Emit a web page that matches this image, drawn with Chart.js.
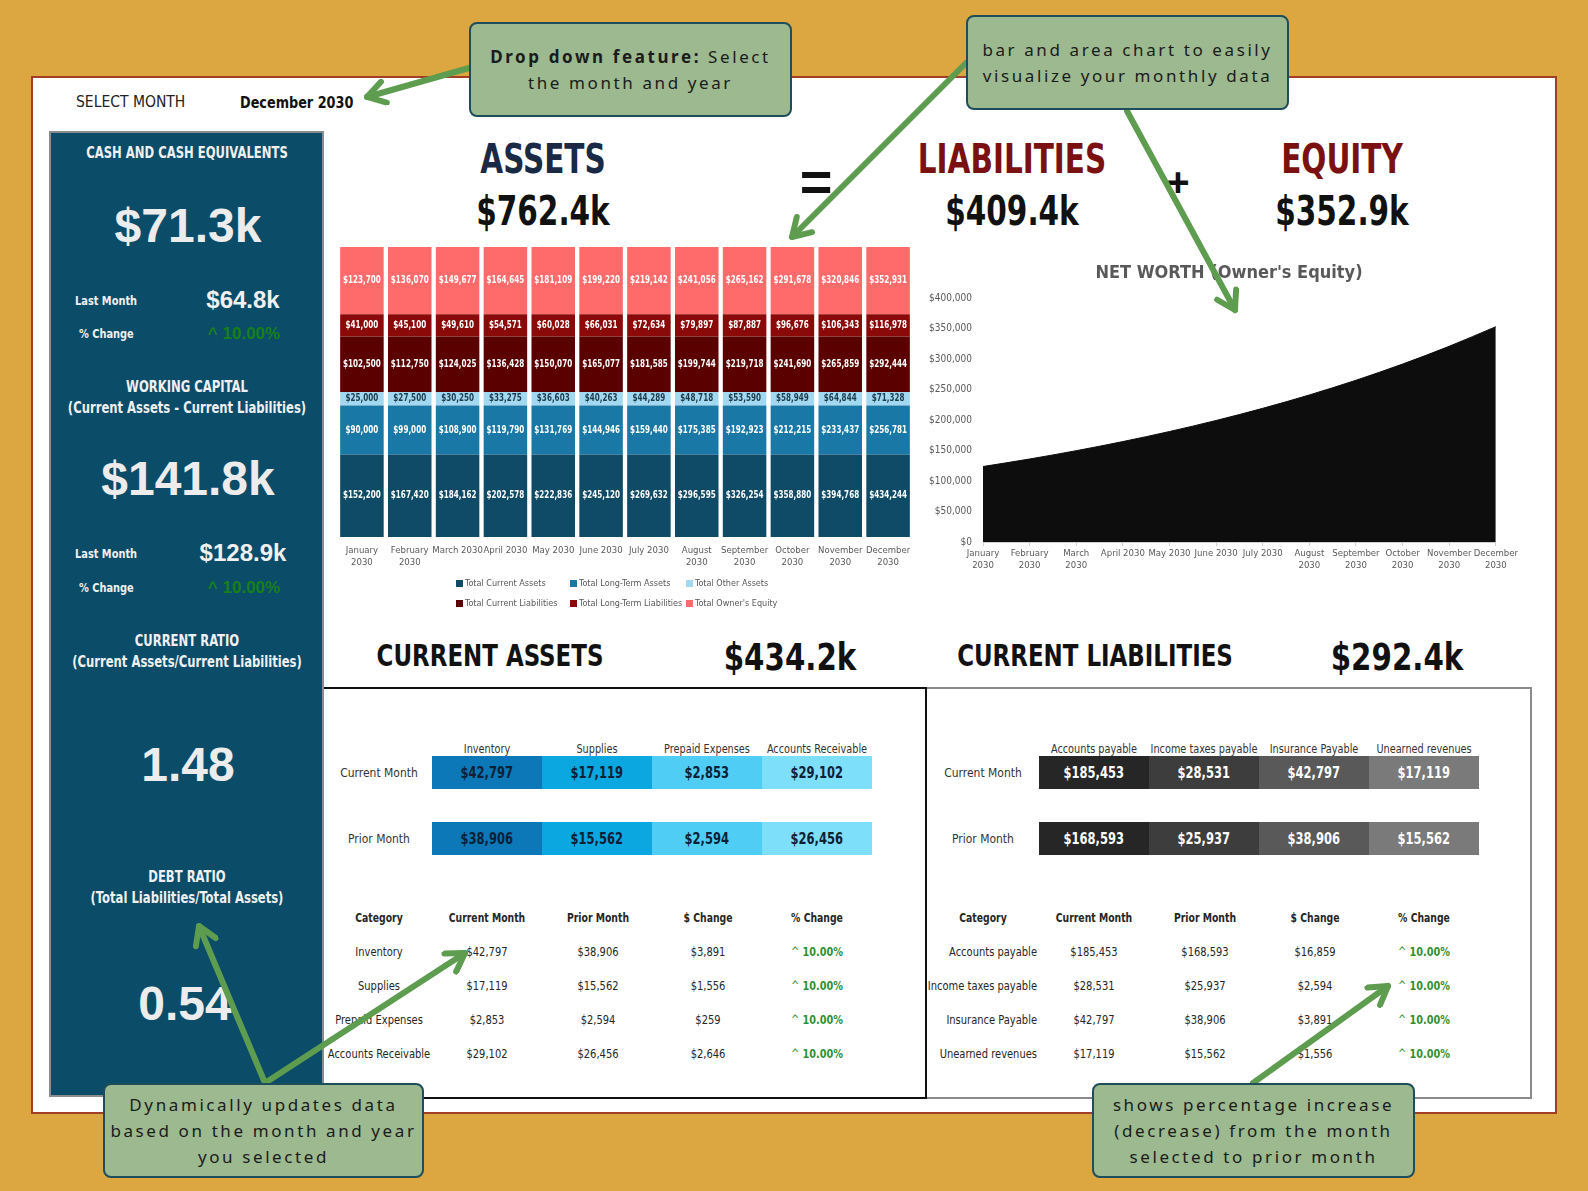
<!DOCTYPE html>
<html>
<head>
<title>Balance Sheet Dashboard</title>
<script src="https://cdn.jsdelivr.net/npm/chart.js"></script>
<style>
  body { margin:0; width:1588px; height:1191px; background:#dca741; position:relative; overflow:hidden;
         font-family:"Liberation Sans Narrow","DejaVu Sans Condensed",sans-serif; color:#222; }
  .t  { position:absolute; white-space:nowrap; line-height:1; transform:translate(-50%,-50%) scaleX(var(--sx,1)); }
  .tl { transform:translate(0,-50%) scaleX(var(--sx,1)); transform-origin:0 50%; }
  .tr { transform:translate(-100%,-50%) scaleX(var(--sx,1)); transform-origin:100% 50%; }
  .b  { font-weight:bold; }
  #sheet { position:absolute; left:31px; top:76px; width:1522px; height:1034px; background:#fff; border:2px solid #a23d26; }
  #side  { position:absolute; left:49px; top:131px; width:271px; height:962px; background:#0b4c69; border:2px solid #8c8c8c; }
  .side  { color:#f0f0f0; }
  .big   { font-family:"Liberation Sans",Arial,sans-serif; font-weight:bold; font-size:48px; color:#ececec; }
  .green { color:#17801a; font-family:"Liberation Sans",Arial,sans-serif; font-weight:bold; font-size:17px; }
  .head  { font-weight:bold; font-size:40px; --sx:0.82; }
  .cell  { position:absolute; height:33px; line-height:33px; text-align:center; font-weight:bold; font-size:16px; }
  .cell span { display:inline-block; transform:scaleX(0.8); }
  .call  { position:absolute; background:#9cb98f; border:2px solid #1e4d5b; border-radius:8px; box-sizing:border-box;
           font-family:"Noto Sans",sans-serif; font-size:17px; letter-spacing:2.6px; line-height:26px; color:#1b1b1b;
           display:flex; align-items:center; justify-content:center; text-align:center; z-index:5; }
  #legend div { position:absolute; font-size:9px; color:#595959; white-space:nowrap; line-height:1; }
  #legend span { display:inline-block; width:7px; height:7px; margin-right:2px; vertical-align:-0.5px; }
</style>
</head>
<body>
<div id="sheet"></div>
<div id="side"></div>

<div class="t tl" style="left:76px;top:103px;font-size:15.5px">SELECT MONTH</div>
<div class="t tl b" style="left:240px;top:103px;font-size:15px;--sx:0.95;color:#111">December 2030</div>

<div id="kpis"></div>
<div id="heads"></div>

<div style="position:absolute;left:330px;top:240px;width:595px;height:340px"><canvas id="barChart" width="595" height="340"></canvas></div>
<div id="legend"></div>
<div style="position:absolute;left:915px;top:255px;width:605px;height:330px"><canvas id="areaChart" width="605" height="330"></canvas></div>
<div class="t b" style="left:1229px;top:272px;font-size:18px;color:#595959">NET WORTH (Owner's Equity)</div>

<div style="position:absolute;left:324px;top:687px;width:601px;height:408px;border:2px solid #111;border-left:none;"></div>
<div style="position:absolute;left:927px;top:687px;width:603px;height:408px;border:2px solid #8a8a8a;border-left:none;"></div>

<div id="tables"></div>

<svg style="position:absolute;left:0;top:0;z-index:4" width="1588" height="1191">
  <defs>
    <marker id="ah" viewBox="0 0 10 10" refX="8" refY="5" markerWidth="4.5" markerHeight="4.5" orient="auto">
      <path d="M1.5,1 L8,5 L1.5,9" fill="none" stroke="#5e9c4f" stroke-width="2.2" stroke-linecap="round" stroke-linejoin="round"/>
    </marker>
  </defs>
  <g stroke="#5e9c4f" stroke-width="6" stroke-linecap="round" marker-end="url(#ah)">
    <line x1="469" y1="68" x2="367" y2="97"/>
    <line x1="966" y1="63" x2="792" y2="237"/>
    <line x1="1127" y1="111" x2="1235" y2="310"/>
    <line x1="265" y1="1083" x2="199" y2="926"/>
    <line x1="265" y1="1083" x2="465" y2="953"/>
    <line x1="1253" y1="1083" x2="1388" y2="986"/>
  </g>
</svg>

<div class="call" style="left:469px;top:22px;width:323px;height:95px"><div><b>Drop down feature:</b> Select<br>the month and year</div></div>
<div class="call" style="left:966px;top:15px;width:323px;height:95px"><div>bar and area chart to easily<br>visualize your monthly data</div></div>
<div class="call" style="left:103px;top:1083px;width:321px;height:95px"><div>Dynamically updates data<br>based on the month and year<br>you selected</div></div>
<div class="call" style="left:1092px;top:1083px;width:323px;height:95px"><div>shows percentage increase<br>(decrease) from the month<br>selected to prior month</div></div>

<script>
// ---- monthly series (bottom to top of the stack) ----
const barMonthLabels = [['January','2030'],['February','2030'],'March 2030','April 2030','May 2030','June 2030','July 2030',
  ['August','2030'],['September','2030'],['October','2030'],['November','2030'],['December','2030']];
const areaMonthLabels = [['January','2030'],['February','2030'],['March','2030'],'April 2030','May 2030','June 2030','July 2030',
  ['August','2030'],['September','2030'],['October','2030'],['November','2030'],['December','2030']];

const curAssets    = [152200,167420,184162,202578,222836,245120,269632,296595,326254,358880,394768,434244];
const ltAssets     = [90000,99000,108900,119790,131769,144946,159440,175385,192923,212215,233437,256781];
const otherAssets  = [25000,27500,30250,33275,36603,40263,44289,48718,53590,58949,64844,71328];
const curLiab      = [102500,112750,124025,136428,150070,165077,181585,199744,219718,241690,265859,292444];
const ltLiab       = [41000,45100,49610,54571,60028,66031,72634,79897,87887,96676,106343,116978];
const ownersEquity = [123700,136070,149677,164645,181109,199220,219142,241056,265162,291678,320846,352931];

const seriesNames  = ['Total Current Assets','Total  Long-Term Assets','Total  Other  Assets',
  'Total Current Liabilities','Total Long-Term Liabilities',"Total Owner's Equity"];
const seriesColors = ['#0f4b67','#1a78a6','#a3d9f0','#5b0000','#8a0a0a','#ff6b6b'];

// ---- KPI cards ----
const kpiTitles = [['CASH AND CASH EQUIVALENTS'],['WORKING CAPITAL','(Current Assets - Current Liabilities)'],
  ['CURRENT RATIO','(Current Assets/Current Liabilities)'],['DEBT RATIO','(Total Liabilities/Total Assets)']];
const kpiValues = ['$71.3k','$141.8k','1.48','0.54'];
const kpiLast   = ['$64.8k','$128.9k'];
const kpiPct    = ['^ 10.00%','^ 10.00%'];

const headNames  = ['ASSETS','LIABILITIES','EQUITY'];
const headValues = ['$762.4k','$409.4k','$352.9k'];

// ---- current assets / liabilities detail ----
const caCats   = ['Inventory','Supplies','Prepaid Expenses','Accounts Receivable'];
const caCurr   = [42797,17119,2853,29102];
const caPrior  = [38906,15562,2594,26456];
const caChange = [3891,1556,259,2646];
const caPct    = [10,10,10,10];
const clCats   = ['Accounts payable','Income taxes payable','Insurance Payable','Unearned revenues'];
const clCurr   = [185453,28531,42797,17119];
const clPrior  = [168593,25937,38906,15562];
const clChange = [16859,2594,3891,1556];
const clPct    = [10,10,10,10];

const fmt = v => '$' + v.toLocaleString('en-US');

function put(parent, x, y, html, cls, style) {
  const d = document.createElement('div');
  d.className = 't ' + (cls || '');
  d.style.left = x + 'px'; d.style.top = y + 'px';
  if (style) d.style.cssText += style;
  d.innerHTML = html;
  document.getElementById(parent).appendChild(d);
  return d;
}

// side panel
const titleY = [[153],[387,408],[641,662],[877,898]];
const valueY = [226,479,765,1004];
kpiTitles.forEach((lines, i) => {
  lines.forEach((s, j) => put('kpis', 187, titleY[i][j], s, 'side b', 'font-size:15px;--sx:0.86'));
  put('kpis', i === 3 ? 185 : 188, valueY[i], kpiValues[i], 'big');
});
[[300,333],[553,587]].forEach((ys, i) => {
  put('kpis', 75, ys[0], 'Last Month', 'tl side b', 'font-size:13px;--sx:0.84');
  put('kpis', 79, ys[1], '% Change', 'tl side b', 'font-size:13px;--sx:0.84');
  put('kpis', 243, ys[0], kpiLast[i], 'side', 'font-family:"Liberation Sans",Arial,sans-serif;font-weight:bold;font-size:24px');
  put('kpis', 244, ys[1], kpiPct[i], 'green');
});

// equation headings
const headX = [543,1012,1342];
const headColors = ['#1a2a45','#7a1010','#7a1010'];
headNames.forEach((s, i) => {
  put('heads', headX[i], 159, s, 'head', 'color:' + headColors[i]);
  put('heads', headX[i], 211, headValues[i], 'head', 'color:#111');
});
put('heads', 816, 182, '=', 'b', 'font-family:"Liberation Sans",Arial;font-size:56px;color:#111');
put('heads', 1178, 182, '+', 'b', 'font-family:"Liberation Sans",Arial;font-size:40px;color:#111');
put('heads', 490, 656, 'CURRENT ASSETS', 'b', 'font-size:30px;--sx:0.85;color:#111');
put('heads', 790, 657, '$434.2k', 'b', 'font-size:37px;--sx:0.88;color:#111');
put('heads', 1095, 656, 'CURRENT LIABILITIES', 'b', 'font-size:30px;--sx:0.85;color:#111');
put('heads', 1397, 657, '$292.4k', 'b', 'font-size:37px;--sx:0.88;color:#111');

// detail strips and tables
function strip(x0, labelX, cats, curr, prior, colors, textColor) {
  const w = 110;
  cats.forEach((c, i) => {
    const cx = x0 + w * i + w / 2;
    put('tables', cx, 749, c, '', 'font-size:12px;--sx:0.9;color:#333');
    [[curr, 756], [prior, 822]].forEach(([vals, top]) => {
      const d = document.createElement('div');
      d.className = 'cell';
      d.style.cssText += `left:${x0 + w * i}px;top:${top}px;width:${w}px;background:${colors[i]};color:${textColor}`;
      d.innerHTML = '<span>' + fmt(vals[i]) + '</span>';
      document.getElementById('tables').appendChild(d);
    });
  });
  put('tables', labelX, 772, 'Current Month', '', 'font-size:13px;--sx:0.92;color:#333');
  put('tables', labelX, 838, 'Prior Month', '', 'font-size:13px;--sx:0.92;color:#333');
}
strip(432, 379, caCats, caCurr, caPrior, ['#0c78b8','#0aa7e0','#50cdf5','#7ddff9'], '#0d2035');
strip(1039, 983, clCats, clCurr, clPrior, ['#262626','#3d3d3d','#595959','#7a7a7a'], '#fff');

function table(xs, catRight, cats, curr, prior, change, pct) {
  const heads = ['Category','Current Month','Prior Month','$ Change','% Change'];
  const txt = 'font-size:12px;--sx:0.92;color:#262626';
  heads.forEach((h, i) => put('tables', xs[i], 918, h, 'b', 'font-size:12px;--sx:0.86;color:#262626'));
  const rowsY = [952,986,1020,1054];
  cats.forEach((c, r) => {
    if (catRight) put('tables', catRight, rowsY[r], c, 'tr', txt);
    else put('tables', xs[0], rowsY[r], c, '', txt);
    put('tables', xs[1], rowsY[r], fmt(curr[r]), '', txt);
    put('tables', xs[2], rowsY[r], fmt(prior[r]), '', txt);
    put('tables', xs[3], rowsY[r], fmt(change[r]), '', txt);
    put('tables', xs[4], rowsY[r], '<span style="font-weight:normal">^</span> ' + pct[r].toFixed(2) + '%', 'b',
        'font-size:12px;--sx:0.9;color:#2f8f2f');
  });
}
table([379,487,598,708,817], 0, caCats, caCurr, caPrior, caChange, caPct);
table([983,1094,1205,1315,1424], 1037, clCats, clCurr, clPrior, clChange, clPct);

// ---- charts ----
Chart.defaults.font.family = '"Liberation Sans Narrow","DejaVu Sans Condensed",sans-serif';
Chart.defaults.color = '#595959';

const rawSeries = [curAssets, ltAssets, otherAssets, curLiab, ltLiab, ownersEquity];
const monthTotals = curAssets.map((_, j) => rawSeries.reduce((s, a) => s + a[j], 0));

const segLabels = {
  id: 'segLabels',
  afterDatasetsDraw(chart) {
    const ctx = chart.ctx;
    chart.data.datasets.forEach((ds, i) => {
      chart.getDatasetMeta(i).data.forEach((bar, j) => {
        ctx.save();
        ctx.font = 'bold 10px "Liberation Sans Narrow","DejaVu Sans Condensed",sans-serif';
        ctx.textAlign = 'center';
        ctx.textBaseline = 'middle';
        ctx.fillStyle = i === 2 ? '#1b3a4b' : '#ffffff';
        ctx.translate(bar.x, (bar.y + bar.base) / 2);
        ctx.scale(0.8, 1);
        ctx.fillText(fmt(ds.raw[j]), 0, 0);
        ctx.restore();
      });
    });
  }
};

const barChart = new Chart(document.getElementById('barChart'), {
  type: 'bar',
  data: {
    labels: barMonthLabels,
    datasets: rawSeries.map((arr, i) => ({
      label: seriesNames[i],
      raw: arr,
      data: arr.map((v, j) => v / monthTotals[j] * 100),
      backgroundColor: seriesColors[i],
      borderWidth: 0,
      barPercentage: 0.91,
      categoryPercentage: 1
    }))
  },
  options: {
    responsive: false,
    animation: false,
    layout: { padding: { left: 8, right: 13, top: 7, bottom: 0 } },
    plugins: { legend: { display: false }, tooltip: { enabled: false } },
    scales: {
      x: { stacked: true, grid: { display: false }, border: { display: false },
           ticks: { font: { size: 9.5 }, maxRotation: 0, autoSkip: false, padding: 0 },
           afterFit: s => { s.height = 43; } },
      y: { stacked: true, display: false, min: 0, max: 100 }
    }
  },
  plugins: [segLabels]
});

// legend laid out in the 3-column grid of the reference
const legendPos = [[456,584],[570,584],[686,584],[456,604],[570,604],[686,604]];
barChart.data.datasets.forEach((ds, i) => {
  const d = document.createElement('div');
  d.style.left = legendPos[i][0] + 'px';
  d.style.top = (legendPos[i][1] - 5) + 'px';
  d.innerHTML = `<span style="background:${ds.backgroundColor}"></span>${ds.label}`;
  document.getElementById('legend').appendChild(d);
});

new Chart(document.getElementById('areaChart'), {
  type: 'line',
  data: {
    labels: areaMonthLabels,
    datasets: [{
      label: "Owner's Equity",
      data: ownersEquity,
      fill: 'origin',
      backgroundColor: '#0d0d0d',
      borderColor: '#0d0d0d',
      borderWidth: 1,
      pointRadius: 0,
      tension: 0.4,
      cubicInterpolationMode: 'monotone'
    }]
  },
  options: {
    responsive: false,
    animation: false,
    layout: { padding: { left: 0, right: 23, top: 43, bottom: 0 } },
    plugins: { legend: { display: false }, tooltip: { enabled: false } },
    scales: {
      x: { grid: { drawOnChartArea: false, color: '#d0d0d0', tickLength: 4 }, border: { color: '#d0d0d0' },
           ticks: { font: { size: 9.5 }, maxRotation: 0, autoSkip: false, padding: 2 },
           afterFit: s => { s.height = 43; } },
      y: { min: 0, max: 400000, grid: { display: false }, border: { display: false },
           ticks: { stepSize: 50000, font: { size: 10 }, padding: 3, callback: v => fmt(v) },
           afterFit: s => { s.width = 68; } }
    }
  }
});
</script>
</body>
</html>
